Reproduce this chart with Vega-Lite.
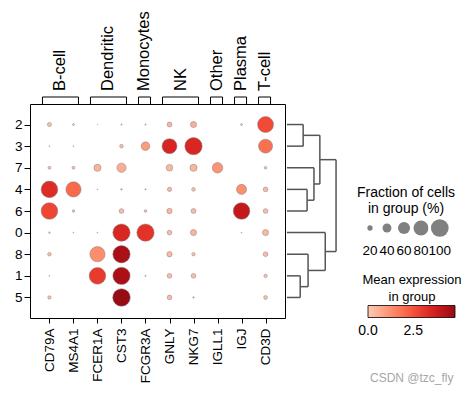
{
  "$schema": "https://vega.github.io/schema/vega-lite/v6.json",
  "padding": {"left": 13, "top": 4, "right": 0, "bottom": 0},
  "title": {"text": "CSDN @tzc_fly", "orient": "bottom", "anchor": "start", "frame": "group", "fontSize": 12, "fontWeight": "normal", "color": "#a6a6a6", "dx": 340, "dy": -10, "offset": 0},
  "config": {
    "font": "Liberation Sans",
    "view": {"stroke": null},
    "axis": {"labelFont": "Liberation Sans", "labelFontSize": 13.5, "labelColor": "black", "tickColor": "black", "domain": false, "grid": false},
    "legend": {"labelFont": "Liberation Sans", "titleFont": "Liberation Sans", "labelColor": "black", "titleColor": "black"}
  },
  "datasets": {
    "dots": [
      {"cluster": "2", "gene": "CD79A", "frac": 14, "expr": 0.2},
      {"cluster": "2", "gene": "MS4A1", "frac": 5, "expr": 0.05},
      {"cluster": "2", "gene": "FCER1A", "frac": 1, "expr": 0.02},
      {"cluster": "2", "gene": "CST3", "frac": 3, "expr": 0.1},
      {"cluster": "2", "gene": "FCGR3A", "frac": 3, "expr": 0.05},
      {"cluster": "2", "gene": "GNLY", "frac": 18, "expr": 0.45},
      {"cluster": "2", "gene": "NKG7", "frac": 24, "expr": 0.6},
      {"cluster": "2", "gene": "IGJ", "frac": 5, "expr": 0.1},
      {"cluster": "2", "gene": "CD3D", "frac": 87, "expr": 2.65},
      {"cluster": "3", "gene": "CD79A", "frac": 2, "expr": 0.02},
      {"cluster": "3", "gene": "MS4A1", "frac": 2, "expr": 0.02},
      {"cluster": "3", "gene": "CST3", "frac": 12, "expr": 0.2},
      {"cluster": "3", "gene": "FCGR3A", "frac": 38, "expr": 1.0},
      {"cluster": "3", "gene": "GNLY", "frac": 80, "expr": 3.5},
      {"cluster": "3", "gene": "NKG7", "frac": 97, "expr": 3.45},
      {"cluster": "3", "gene": "CD3D", "frac": 73, "expr": 1.9},
      {"cluster": "7", "gene": "CD79A", "frac": 9, "expr": 0.15},
      {"cluster": "7", "gene": "MS4A1", "frac": 9, "expr": 0.15},
      {"cluster": "7", "gene": "FCER1A", "frac": 30, "expr": 0.5},
      {"cluster": "7", "gene": "CST3", "frac": 42, "expr": 0.65},
      {"cluster": "7", "gene": "GNLY", "frac": 27, "expr": 0.4},
      {"cluster": "7", "gene": "NKG7", "frac": 30, "expr": 0.45},
      {"cluster": "7", "gene": "IGLL1", "frac": 50, "expr": 1.2},
      {"cluster": "7", "gene": "CD3D", "frac": 8, "expr": 0.15},
      {"cluster": "4", "gene": "CD79A", "frac": 92, "expr": 3.3},
      {"cluster": "4", "gene": "MS4A1", "frac": 82, "expr": 2.05},
      {"cluster": "4", "gene": "FCER1A", "frac": 2, "expr": 0.05},
      {"cluster": "4", "gene": "CST3", "frac": 4, "expr": 0.05},
      {"cluster": "4", "gene": "FCGR3A", "frac": 3, "expr": 0.05},
      {"cluster": "4", "gene": "GNLY", "frac": 15, "expr": 0.3},
      {"cluster": "4", "gene": "NKG7", "frac": 12, "expr": 0.2},
      {"cluster": "4", "gene": "IGJ", "frac": 47, "expr": 1.25},
      {"cluster": "4", "gene": "CD3D", "frac": 17, "expr": 0.3},
      {"cluster": "6", "gene": "CD79A", "frac": 92, "expr": 2.75},
      {"cluster": "6", "gene": "MS4A1", "frac": 7, "expr": 0.15},
      {"cluster": "6", "gene": "CST3", "frac": 17, "expr": 0.3},
      {"cluster": "6", "gene": "FCGR3A", "frac": 8, "expr": 0.15},
      {"cluster": "6", "gene": "GNLY", "frac": 20, "expr": 0.35},
      {"cluster": "6", "gene": "NKG7", "frac": 18, "expr": 0.3},
      {"cluster": "6", "gene": "IGJ", "frac": 92, "expr": 3.95},
      {"cluster": "6", "gene": "CD3D", "frac": 17, "expr": 0.3},
      {"cluster": "0", "gene": "CD79A", "frac": 4, "expr": 0.05},
      {"cluster": "0", "gene": "MS4A1", "frac": 2, "expr": 0.02},
      {"cluster": "0", "gene": "FCER1A", "frac": 2, "expr": 0.02},
      {"cluster": "0", "gene": "CST3", "frac": 97, "expr": 3.45},
      {"cluster": "0", "gene": "FCGR3A", "frac": 97, "expr": 3.15},
      {"cluster": "0", "gene": "GNLY", "frac": 17, "expr": 0.3},
      {"cluster": "0", "gene": "NKG7", "frac": 24, "expr": 0.45},
      {"cluster": "0", "gene": "IGJ", "frac": 2, "expr": 0.02},
      {"cluster": "0", "gene": "CD3D", "frac": 24, "expr": 0.4},
      {"cluster": "8", "gene": "CD79A", "frac": 12, "expr": 0.2},
      {"cluster": "8", "gene": "FCER1A", "frac": 82, "expr": 1.3},
      {"cluster": "8", "gene": "CST3", "frac": 97, "expr": 4.45},
      {"cluster": "8", "gene": "GNLY", "frac": 20, "expr": 0.35},
      {"cluster": "8", "gene": "NKG7", "frac": 11, "expr": 0.2},
      {"cluster": "8", "gene": "CD3D", "frac": 17, "expr": 0.3},
      {"cluster": "1", "gene": "CD79A", "frac": 2, "expr": 0.02},
      {"cluster": "1", "gene": "FCER1A", "frac": 92, "expr": 3.0},
      {"cluster": "1", "gene": "CST3", "frac": 97, "expr": 4.45},
      {"cluster": "1", "gene": "FCGR3A", "frac": 3, "expr": 0.05},
      {"cluster": "1", "gene": "GNLY", "frac": 17, "expr": 0.3},
      {"cluster": "1", "gene": "NKG7", "frac": 17, "expr": 0.3},
      {"cluster": "1", "gene": "CD3D", "frac": 11, "expr": 0.2},
      {"cluster": "5", "gene": "CD79A", "frac": 11, "expr": 0.2},
      {"cluster": "5", "gene": "CST3", "frac": 99, "expr": 4.8},
      {"cluster": "5", "gene": "GNLY", "frac": 17, "expr": 0.3},
      {"cluster": "5", "gene": "NKG7", "frac": 4, "expr": 0.05},
      {"cluster": "5", "gene": "CD3D", "frac": 13, "expr": 0.2}
    ],
    "groups": [
      {"label": "B-cell", "start": "CD79A", "end": "MS4A1", "n": 2},
      {"label": "Dendritic", "start": "FCER1A", "end": "CST3", "n": 2},
      {"label": "Monocytes", "start": "FCGR3A", "end": "FCGR3A", "n": 1},
      {"label": "NK", "start": "GNLY", "end": "NKG7", "n": 2},
      {"label": "Other", "start": "IGLL1", "end": "IGLL1", "n": 1},
      {"label": "Plasma", "start": "IGJ", "end": "IGJ", "n": 1},
      {"label": "T-cell", "start": "CD3D", "end": "CD3D", "n": 1}
    ],
    "tree": [
      {"d1": 0, "r1": 0, "d2": 0.33, "r2": 0},
      {"d1": 0.33, "r1": 0, "d2": 0.33, "r2": 1},
      {"d1": 0, "r1": 1, "d2": 0.33, "r2": 1},
      {"d1": 0, "r1": 3, "d2": 0.41, "r2": 3},
      {"d1": 0.41, "r1": 3, "d2": 0.41, "r2": 4},
      {"d1": 0, "r1": 4, "d2": 0.41, "r2": 4},
      {"d1": 0, "r1": 2, "d2": 0.55, "r2": 2},
      {"d1": 0.55, "r1": 2, "d2": 0.55, "r2": 3.5},
      {"d1": 0.41, "r1": 3.5, "d2": 0.55, "r2": 3.5},
      {"d1": 0.33, "r1": 0.5, "d2": 0.67, "r2": 0.5},
      {"d1": 0.67, "r1": 0.5, "d2": 0.67, "r2": 2.75},
      {"d1": 0.55, "r1": 2.75, "d2": 0.67, "r2": 2.75},
      {"d1": 0, "r1": 7, "d2": 0.27, "r2": 7},
      {"d1": 0.27, "r1": 7, "d2": 0.27, "r2": 8},
      {"d1": 0, "r1": 8, "d2": 0.27, "r2": 8},
      {"d1": 0, "r1": 6, "d2": 0.43, "r2": 6},
      {"d1": 0.43, "r1": 6, "d2": 0.43, "r2": 7.5},
      {"d1": 0.27, "r1": 7.5, "d2": 0.43, "r2": 7.5},
      {"d1": 0, "r1": 5, "d2": 0.78, "r2": 5},
      {"d1": 0.78, "r1": 5, "d2": 0.78, "r2": 6.75},
      {"d1": 0.43, "r1": 6.75, "d2": 0.78, "r2": 6.75},
      {"d1": 0.67, "r1": 1.625, "d2": 1, "r2": 1.625},
      {"d1": 1, "r1": 1.625, "d2": 1, "r2": 5.875},
      {"d1": 0.78, "r1": 5.875, "d2": 1, "r2": 5.875}
    ]
  },
  "bounds": "flush",
  "spacing": 0,
  "resolve": {"scale": {"x": "independent", "y": "independent"}},
  "vconcat": [
    {
      "width": 255,
      "height": 100,
      "data": {"name": "groups"},
      "layer": [
        {
          "mark": {"type": "rule", "color": "black", "strokeWidth": 1, "xOffset": -7, "x2Offset": 5},
          "encoding": {
            "x": {"field": "start", "type": "nominal", "scale": {"type": "point", "padding": 0.81, "domain": ["CD79A", "MS4A1", "FCER1A", "CST3", "FCGR3A", "GNLY", "NKG7", "IGLL1", "IGJ", "CD3D"]}, "axis": null},
            "x2": {"field": "end"},
            "y": {"datum": 7, "type": "quantitative", "scale": {"domain": [0, 100], "nice": false, "zero": false}, "axis": null}
          }
        },
        {
          "mark": {"type": "rule", "color": "black", "strokeWidth": 1, "xOffset": -7},
          "encoding": {
            "x": {"field": "start", "type": "nominal"},
            "y": {"datum": 0, "type": "quantitative"},
            "y2": {"datum": 7}
          }
        },
        {
          "mark": {"type": "rule", "color": "black", "strokeWidth": 1, "xOffset": 5},
          "encoding": {
            "x": {"field": "end", "type": "nominal"},
            "y": {"datum": 0, "type": "quantitative"},
            "y2": {"datum": 7}
          }
        },
        {
          "transform": [{"filter": "datum.n == 1"}],
          "mark": {"type": "text", "angle": 270, "align": "left", "baseline": "middle", "fontSize": 16.5, "color": "black", "xOffset": -1},
          "encoding": {
            "x": {"field": "start", "type": "nominal"},
            "y": {"datum": 13, "type": "quantitative"},
            "text": {"field": "label"}
          }
        },
        {
          "transform": [{"filter": "datum.n == 2"}],
          "mark": {"type": "text", "angle": 270, "align": "left", "baseline": "middle", "fontSize": 16.5, "color": "black", "xOffset": 11},
          "encoding": {
            "x": {"field": "start", "type": "nominal"},
            "y": {"datum": 13, "type": "quantitative"},
            "text": {"field": "label"}
          }
        }
      ]
    },
    {
      "bounds": "flush",
      "spacing": 0,
      "resolve": {"scale": {"x": "independent", "y": "independent"}},
      "hconcat": [
        {
          "width": 255,
          "height": 214,
          "view": {"stroke": "black", "strokeWidth": 1},
          "data": {"name": "dots"},
          "mark": {"type": "circle", "opacity": 1, "stroke": "#808080", "strokeWidth": 0.5},
          "encoding": {
            "x": {
              "field": "gene", "type": "nominal",
              "scale": {"type": "point", "padding": 0.81, "domain": ["CD79A", "MS4A1", "FCER1A", "CST3", "FCGR3A", "GNLY", "NKG7", "IGLL1", "IGJ", "CD3D"]},
              "axis": {"title": null, "labelAngle": -90, "tickSize": 5, "labelPadding": 5}
            },
            "y": {
              "field": "cluster", "type": "nominal",
              "scale": {"type": "point", "padding": 0.95, "domain": ["2", "3", "7", "4", "6", "0", "8", "1", "5"]},
              "axis": {"title": null, "labelAngle": 0, "tickSize": 6, "labelPadding": 2}
            },
            "size": {
              "field": "frac", "type": "quantitative",
              "scale": {"type": "pow", "exponent": 1.5, "domain": [0, 100], "range": [0, 313]},
              "legend": {
                "title": ["Fraction of cells", "in group (%)"],
                "orient": "none", "legendX": 327, "legendY": 182,
                "direction": "horizontal", "columns": 5,
                "values": [20, 40, 60, 80, 100],
                "symbolType": "circle", "symbolFillColor": "#808080", "symbolStrokeWidth": 0, "symbolOpacity": 1,
                "clipHeight": 18,
                "labelExpr": "['', datum.label]",
                "labelAlign": "center", "labelBaseline": "top", "labelOffset": -9, "labelFontSize": 13.5,
                "columnPadding": -1.2,
                "titleAnchor": "middle", "titleAlign": "center", "titleFontSize": 14, "titleFontWeight": "normal", "titleLineHeight": 16, "titlePadding": 3
              }
            },
            "color": {
              "field": "expr", "type": "quantitative",
              "scale": {"scheme": "reds", "domain": [0, 4.8]},
              "legend": {
                "title": ["Mean expression", "in group"],
                "orient": "none", "legendX": 333, "legendY": 270,
                "direction": "horizontal", "gradientLength": 87, "gradientThickness": 12,
                "gradientStrokeColor": "black", "gradientStrokeWidth": 0.8,
                "values": [0.001, 2.5], "format": ".1f",
                "labelFontSize": 14, "labelOffset": 6, "labelOverlap": false,
                "titleAnchor": "middle", "titleAlign": "center", "titleFontSize": 13, "titleFontWeight": "normal", "titleLineHeight": 16.5, "titlePadding": 2
              }
            }
          }
        },
        {
          "width": 54,
          "height": 214,
          "data": {"name": "tree"},
          "mark": {"type": "rule", "color": "#555555", "strokeWidth": 1.5},
          "encoding": {
            "x": {"field": "d1", "type": "quantitative", "scale": {"domain": [-0.04, 1.06], "nice": false, "zero": false}, "axis": null},
            "x2": {"field": "d2"},
            "y": {"field": "r1", "type": "quantitative", "scale": {"domain": [-0.95, 8.95], "nice": false, "zero": false, "reverse": true}, "axis": null},
            "y2": {"field": "r2"}
          }
        }
      ]
    }
  ]
}
